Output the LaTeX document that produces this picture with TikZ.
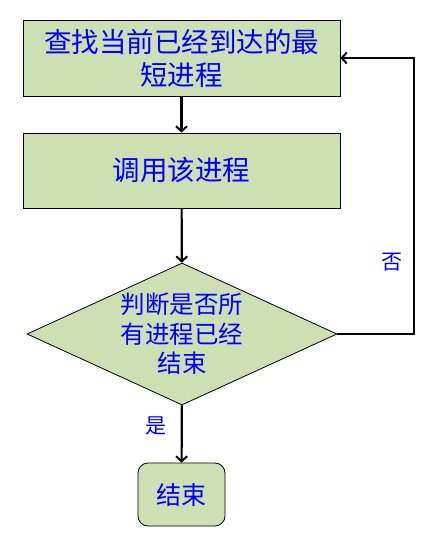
\documentclass[tikz,border=0pt]{standalone}
\usepackage{fontspec}
\newfontfamily\cjk{Noto Sans CJK SC}
\usetikzlibrary{positioning,arrows.meta,shapes.geometric}
\definecolor{boxfill}{HTML}{CCE0B4}
\definecolor{txtblue}{HTML}{0000FF}

\begin{document}
\begin{tikzpicture}[x=1pt,y=-1pt,
  procbox/.style={draw,line width=0.8pt,fill=boxfill,minimum width=317pt,minimum height=76pt,
    text=txtblue,font=\cjk\fontsize{27.5}{33}\selectfont,align=center,inner sep=0pt},
  decision/.style={diamond,draw,line width=0.8pt,fill=boxfill,aspect=2.18,minimum width=310pt,
    minimum height=142pt,inner sep=0pt,text=txtblue,font=\cjk\fontsize{24.5}{29.5}\selectfont,align=center},
  endbox/.style={draw,line width=0.8pt,fill=boxfill,rounded corners=10pt,minimum width=87pt,
    minimum height=63pt,text=txtblue,font=\cjk\fontsize{25}{30}\selectfont},
  flow/.style={line width=2.2pt,-{Straight Barb[length=5pt,width=11pt,line width=2pt]}},
  tag/.style={text=txtblue,font=\cjk\fontsize{21}{24}\selectfont,inner sep=1pt}]
\useasboundingbox (0,0) rectangle (440,559);
\node[procbox] (find) at (181.5,58) {查找当前已经到达的最\\短进程};
\node[procbox,minimum height=75pt] (call) at (181.5,170.5) {调用该进程};
\node[decision] (judge) at (182,334) {判断是否所\\有进程已经\\结束};
\node[endbox] (stop) at (181.5,494.5) {结束};
\coordinate (loop) at (414,334);
% connectors
\draw[flow] (find) -- (call);
\draw[flow] (call) -- (judge);
\draw[flow] (judge) -- node[pos=0.36,left=13pt,tag] {是} (stop);
\draw[flow] (judge.east) -- (loop) |- node[pos=0.13,left=9pt,tag] {否} (find.east);
\end{tikzpicture}
\end{document}
